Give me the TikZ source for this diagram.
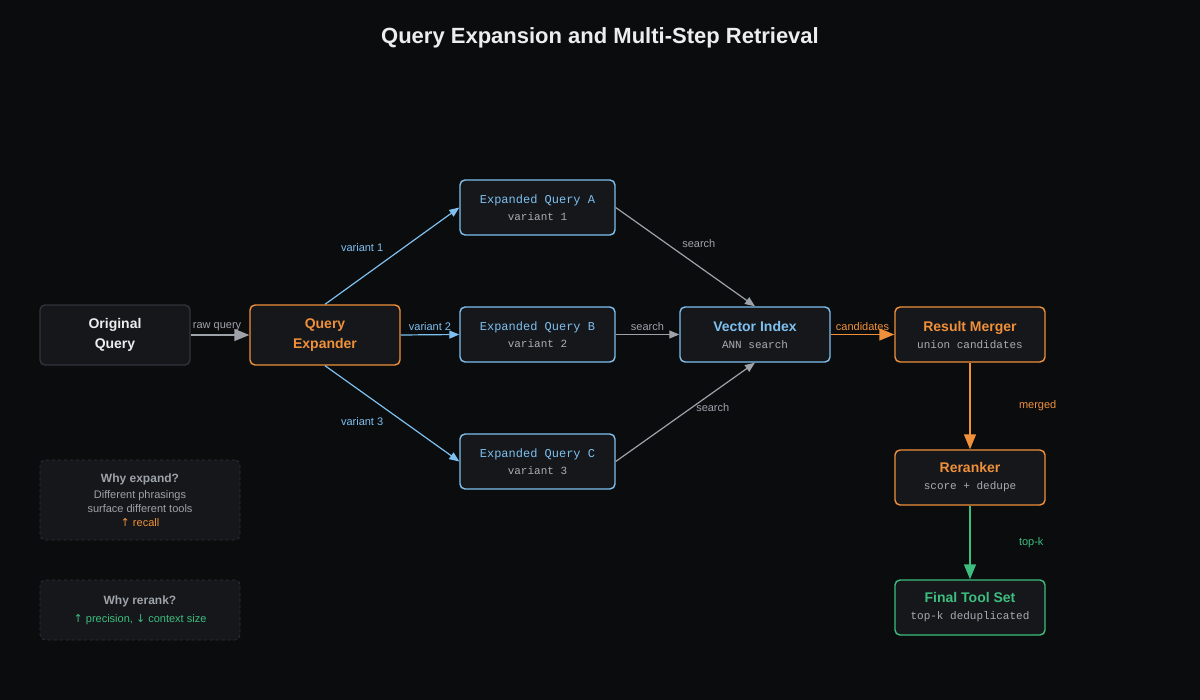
\documentclass[tikz,border=0pt]{standalone}
\usepackage{fontspec}
\setmainfont{Liberation Sans}
\setmonofont{Liberation Mono}
\newfontfamily\dv{DejaVu Sans}
\usetikzlibrary{arrows.meta}
\definecolor{bg}{HTML}{0A0C0E}
\definecolor{nodebg}{HTML}{15171B}
\definecolor{gborder}{HTML}{30333A}
\definecolor{orng}{HTML}{F0903A}
\definecolor{blu}{HTML}{7EC0F0}
\definecolor{grn}{HTML}{3DBE7E}
\definecolor{gry}{HTML}{9EA3AA}
\definecolor{txt}{HTML}{EDEDED}
\definecolor{mono}{HTML}{A8ADB4}
\newcommand\ttlf{\bfseries\fontsize{14}{17}\selectfont}
\newcommand\twol[3]{{\color{#1}#2}\\[5pt]{\ttfamily\fontsize{11}{13}\selectfont\color{mono}#3}}
\begin{document}
\begin{tikzpicture}[x=1pt,y=-1pt,
  box/.style={draw, fill=nodebg, rounded corners=5pt, line width=1.4pt, minimum width=150pt, minimum height=55pt, align=center, inner sep=0pt},
  ttl/.style={font=\ttlf},
  lbl/.style={font=\fontsize{11}{13}\selectfont},
  arr/.style={-{Triangle[length=10pt,width=8pt]}, line width=1.2pt},
  barr/.style={-{Triangle[length=15pt,width=12pt]}, line width=1.4pt},
  note/.style={draw=gborder, dashed, fill=nodebg, rounded corners=5pt, line width=0.8pt, minimum width=200pt, align=center, inner sep=0pt}]
\fill[bg] (0,0) rectangle (1200,700);
\useasboundingbox (0,0) rectangle (1200,700);
\node[txt, font=\bfseries\fontsize{22}{26}\selectfont] (title) at (600,38) {Query Expansion and Multi-Step Retrieval};

\node[box, draw=gborder, minimum height=60pt, text=txt, ttl] (orig) at (115,335) {Original\\[3pt]Query};
\node[box, draw=orng, minimum height=60pt, text=orng, ttl] (qe) at (325,335) {Query\\[3pt]Expander};
\node[box, draw=blu, minimum width=155pt] (ea) at (537.5,207.5) {\twol{blu}{\ttfamily\fontsize{12}{14}\selectfont Expanded Query A}{variant 1}};
\node[box, draw=blu, minimum width=155pt] (eb) at (537.5,334.5) {\twol{blu}{\ttfamily\fontsize{12}{14}\selectfont Expanded Query B}{variant 2}};
\node[box, draw=blu, minimum width=155pt] (ec) at (537.5,461.5) {\twol{blu}{\ttfamily\fontsize{12}{14}\selectfont Expanded Query C}{variant 3}};
\node[box, draw=blu] (vi) at (755,334.5) {\twol{blu}{\ttlf Vector Index}{ANN search}};
\node[box, draw=orng] (rm) at (970,334.5) {\twol{orng}{\ttlf Result Merger}{union candidates}};
\node[box, draw=orng] (rr) at (970,477.5) {\twol{orng}{\ttlf Reranker}{score + dedupe}};
\node[box, draw=grn] (fs) at (970,607.5) {\twol{grn}{\ttlf Final Tool Set}{top-k deduplicated}};

\node[note, minimum height=80pt] (n1) at (140,500) {{\color{gry}\bfseries\fontsize{12}{14}\selectfont Why expand?}\\[4pt]
 {\color{gry}\fontsize{11}{13}\selectfont Different phrasings}\\[2pt]{\color{gry}\fontsize{11}{13}\selectfont surface different tools}\\[2pt]{\color{orng}\fontsize{11}{13}\selectfont{\dv↑} recall}};
\node[note, minimum height=60pt] (n2) at (140,610) {{\color{gry}\bfseries\fontsize{12}{14}\selectfont Why rerank?}\\[6pt]
 {\color{grn}\fontsize{11}{13}\selectfont{\dv↑} precision, {\dv↓} context size}};

\draw[barr, gry] (orig.east) -- node[above, lbl, gry, pos=0.45] {raw query} (qe.west);
\draw[arr, blu] (qe.north) -- node[above left, lbl, pos=0.5, xshift=-5pt] {variant 1} (ea.west);
\draw[arr, blu] (qe.east) -- node[above, lbl] {variant 2} (eb.west);
\draw[arr, blu] (qe.south) -- node[below left, lbl, pos=0.5, xshift=-5pt] {variant 3} (ec.west);
\draw[arr, gry] (ea.east) -- node[above right, lbl, pos=0.45] {search} (vi.north);
\draw[arr, gry] (eb.east) -- node[above, lbl] {search} (vi.west);
\draw[arr, gry] (ec.east) -- node[below right, lbl, pos=0.55, yshift=8pt] {search} (vi.south);
\draw[barr, orng] (vi.east) -- node[above, lbl] {candidates} (rm.west);
\draw[barr, orng] (rm.south) -- node[right, lbl, xshift=45pt] {merged} (rr.north);
\draw[barr, grn] (rr.south) -- node[right, lbl, xshift=45pt] {top-k} (fs.north);
\end{tikzpicture}
\end{document}
